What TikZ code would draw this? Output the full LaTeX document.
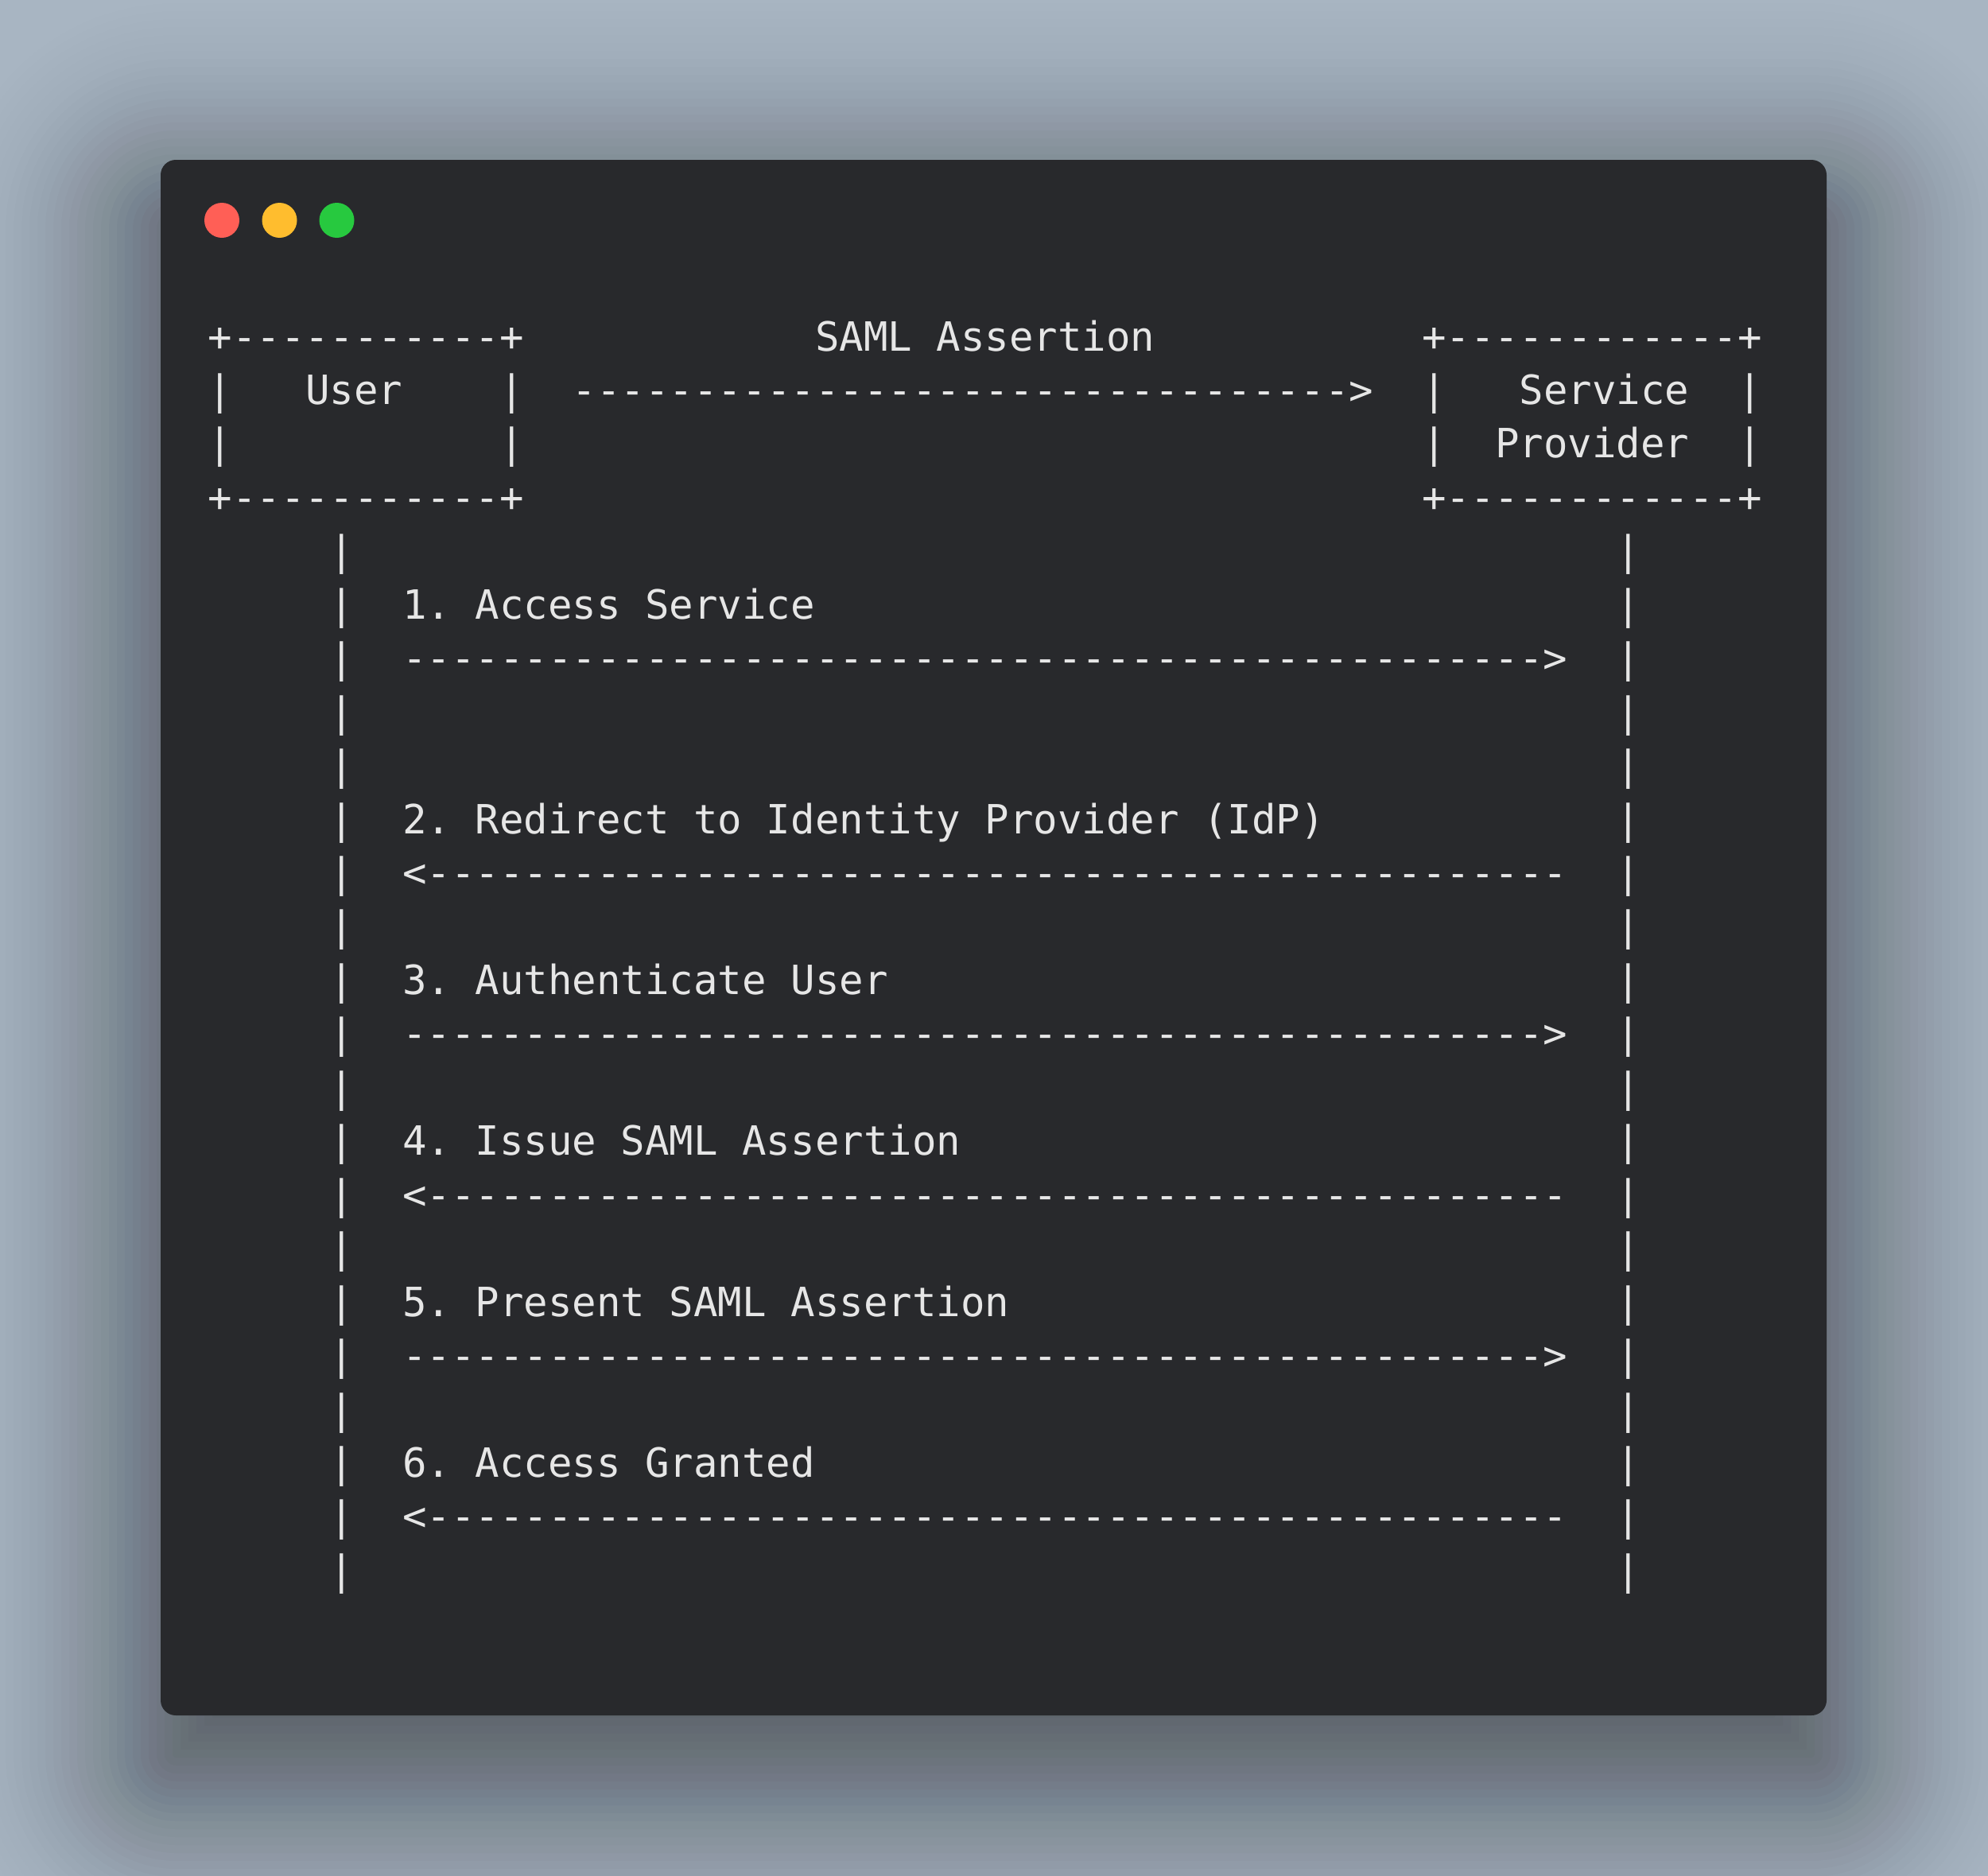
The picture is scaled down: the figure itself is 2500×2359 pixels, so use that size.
\documentclass[tikz,border=0pt]{standalone}
\usepackage{fontspec}
\setmonofont{DejaVu Sans Mono}
\ExplSyntaxOn
\cs_new_eq:NN \myrep \prg_replicate:nn
\ExplSyntaxOff
\definecolor{bgc}{HTML}{A8B5C2}
\definecolor{winc}{HTML}{28292C}
\definecolor{txtc}{HTML}{E6E6E6}
\definecolor{redc}{HTML}{FF5F56}
\definecolor{yelc}{HTML}{FFBD2E}
\definecolor{grnc}{HTML}{27C93F}
\newcommand\xo{261.9}
\newcommand\cw{30.53}
\newcommand\yo{441.0}
\newcommand\lh{67.45}
\newcommand\seg[4]{\node[txt] (#1) at ({\xo+#2*\cw},{\yo+#3*\lh}) {#4};}
\newcommand\rarr{\myrep{47}{-}>}
\newcommand\larr{<\myrep{47}{-}}
\begin{document}
\begin{tikzpicture}[x=0.4pt,y=-0.4pt,
  txt/.style={anchor=base west,inner sep=0pt,outer sep=0pt,text=txtc,
    font=\ttfamily\frenchspacing\fontsize{20.28pt}{20.28pt}\selectfont},
  light/.style={circle,minimum size=17.6pt,inner sep=0pt}]
\useasboundingbox (0,0) rectangle (2500,2359);
\fill[bgc] (0,0) rectangle (2500,2359);
% soft drop shadow (approximate gaussian, sigma 125, offset 68)
\foreach \e in {-65,-55,...,405}{
  \pgfmathsetmacro\op{1-exp(-0.65*exp(-0.5*(\e/125)^2)*0.3989*10/125)}
  \pgfmathsetmacro\rr{max(1,19+\e)*0.4}
  \fill[black,fill opacity=\op,rounded corners=\rr pt]
    ({202-\e},{201+68-\e}) rectangle ({2297+\e},{2157+68+\e});
}
% window
\fill[winc,rounded corners=7.6pt] (202,201) rectangle (2297,2157);
% traffic lights
\node[light,fill=redc] (red) at (279,277) {};
\node[light,fill=yelc] (yel) at (351.5,277) {};
\node[light,fill=grnc] (grn) at (423.5,277) {};
% line 0
\seg{a0}{0}{0}{+\myrep{11}{-}+}
\seg{b0}{25}{0}{SAML Assertion}
\seg{c0}{50}{0}{+\myrep{12}{-}+}
% line 1
\seg{a1}{0}{1}{|}
\seg{b1}{4}{1}{User}
\seg{c1}{12}{1}{|}
\seg{d1}{15}{1}{\myrep{32}{-}>}
\seg{e1}{50}{1}{|}
\seg{f1}{54}{1}{Service}
\seg{g1}{63}{1}{|}
% line 2
\seg{a2}{0}{2}{|}
\seg{c2}{12}{2}{|}
\seg{e2}{50}{2}{|}
\seg{f2}{53}{2}{Provider}
\seg{g2}{63}{2}{|}
% line 3
\seg{a3}{0}{3}{+\myrep{11}{-}+}
\seg{c3}{50}{3}{+\myrep{12}{-}+}
% lifelines
\foreach \i in {4,...,23}{
  \seg{uL\i}{5}{\i}{|}
  \seg{sL\i}{58}{\i}{|}
}
% messages
\seg{m1}{8}{5}{1. Access Service}
\seg{r1}{8}{6}{\rarr}
\seg{m2}{8}{9}{2. Redirect to Identity Provider (IdP)}
\seg{r2}{8}{10}{\larr}
\seg{m3}{8}{12}{3. Authenticate User}
\seg{r3}{8}{13}{\rarr}
\seg{m4}{8}{15}{4. Issue SAML Assertion}
\seg{r4}{8}{16}{\larr}
\seg{m5}{8}{18}{5. Present SAML Assertion}
\seg{r5}{8}{19}{\rarr}
\seg{m6}{8}{21}{6. Access Granted}
\seg{r6}{8}{22}{\larr}
\end{tikzpicture}
\end{document}
